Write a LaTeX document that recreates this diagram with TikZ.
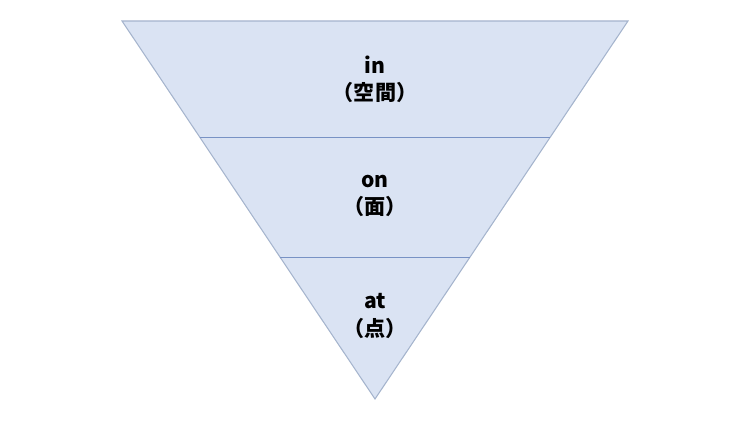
\documentclass[tikz,border=0pt]{standalone}
\usepackage{fontspec}
\setmainfont{Noto Sans CJK JP}
\definecolor{tribfill}{RGB}{218, 227, 243}
\definecolor{tribedge}{RGB}{165, 180, 205}
\definecolor{tribline}{RGB}{120, 146, 196}
\usetikzlibrary{positioning, calc}

\begin{document}
\begin{tikzpicture}[
  x=0.02cm, y=-0.02cm,
  lvl/.style={align=center, font=\fontsize{12}{15.5}\selectfont\bfseries, inner sep=0pt}
]
  \useasboundingbox (0, 0) rectangle (750, 422);
  \coordinate (tl) at (122, 21);
  \coordinate (tr) at (628, 21);
  \coordinate (bot) at (375, 399);
  \draw[tribedge, fill=tribfill, line width=0.6pt] (tl) -- (tr) -- (bot) -- cycle;
  % dividers
  \draw[tribline, line width=0.5pt] ($(tl)!0.3069!(bot)$) coordinate (d1l) -- ($(tr)!0.3069!(bot)$) coordinate (d1r);
  \draw[tribline, line width=0.5pt] ($(tl)!0.6243!(bot)$) coordinate (d2l) -- ($(tr)!0.6243!(bot)$) coordinate (d2r);
  \node[lvl] (in) at (375, 79) {in\\（空間）};
  \node[lvl] (on) at (375, 196) {on\\（面）};
  \node[lvl] (at) at (375, 316) {at\\（点）};
\end{tikzpicture}
\end{document}
